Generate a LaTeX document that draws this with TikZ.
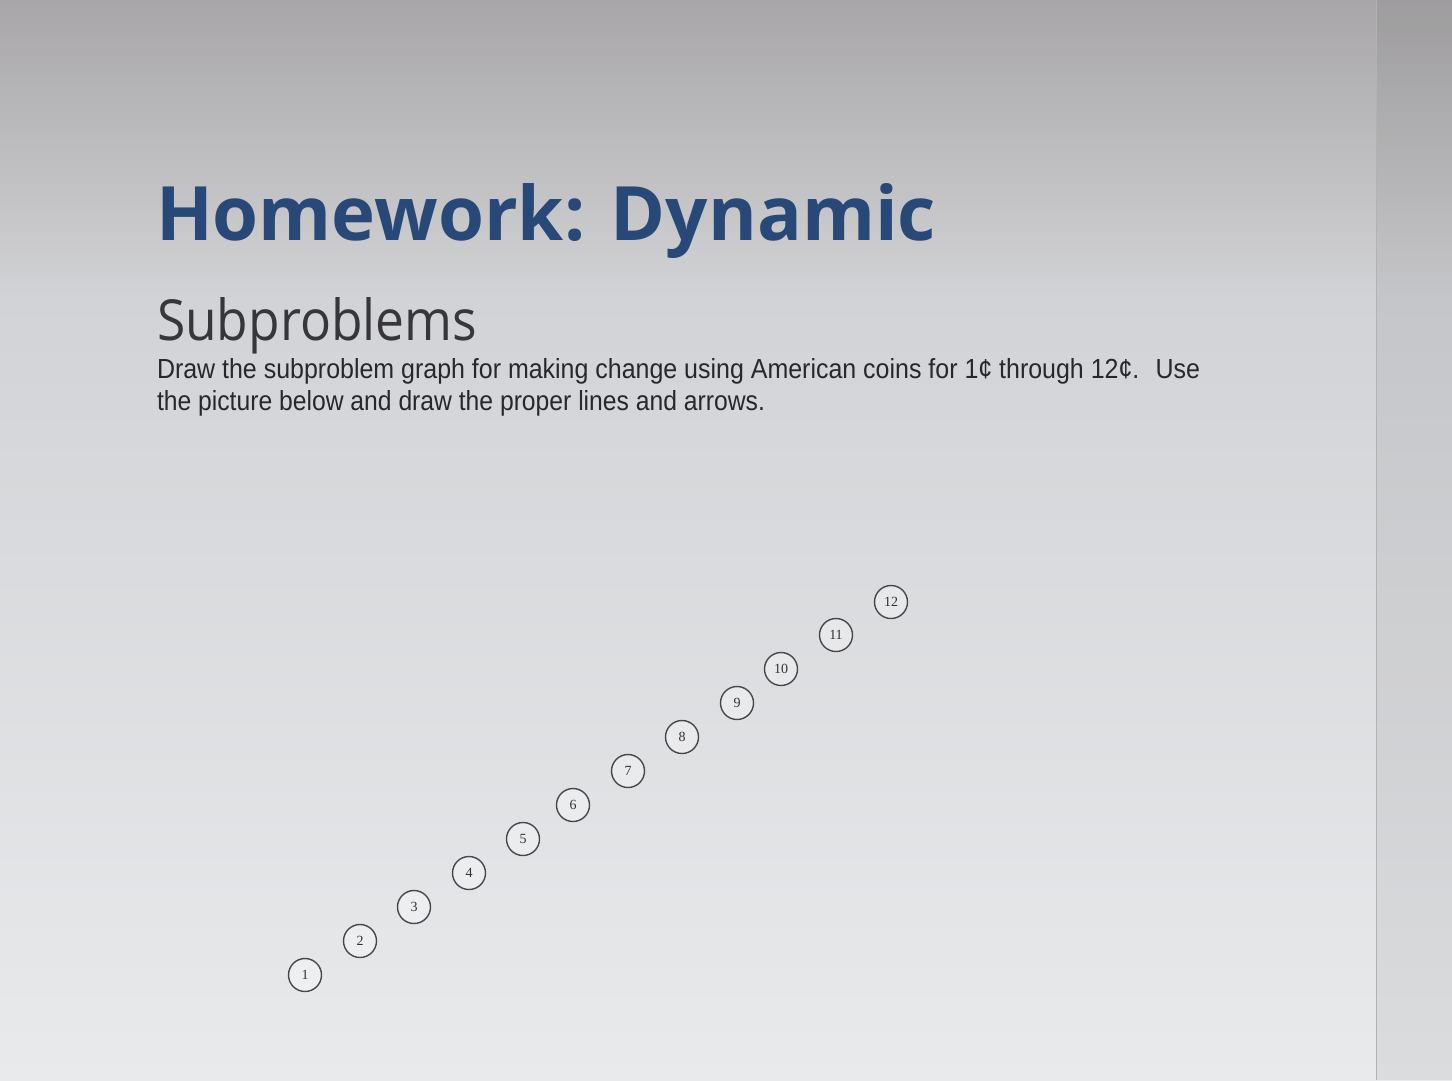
\documentclass[tikz,border=0pt]{standalone}
\usepackage{fontspec}
\usepackage{graphicx}
\setmainfont{Liberation Serif}
\newfontfamily\titlefont{Open Sans}
\newfontfamily\bodyfont{Liberation Sans}
\definecolor{bgtop}{RGB}{168,166,168}
\definecolor{bgmid}{RGB}{210,211,214}
\definecolor{bgbot}{RGB}{232,234,236}
\definecolor{titleblue}{RGB}{40,72,120}
\definecolor{subgray}{RGB}{55,55,58}
\definecolor{bodygray}{RGB}{40,40,44}
\definecolor{ringgray}{RGB}{70,72,76}
\tikzset{
  coin/.style={circle, draw=ringgray, line width=1.4pt, fill=white, fill opacity=0.35, text opacity=1,
    minimum size=33pt, inner sep=0pt, font=\fontsize{14pt}{14pt}\selectfont, text=black!80},
  txt/.style={anchor=base west, inner sep=0pt, outer sep=0pt}
}
\begin{document}
\begin{tikzpicture}[x=1pt,y=-1pt]
\useasboundingbox (0,0) rectangle (1452,1080);
\shade[top color=bgtop, bottom color=bgmid] (0,0) rectangle (1452,300);
\shade[top color=bgmid, bottom color=bgbot] (0,300) rectangle (1452,1080);
\fill[black, opacity=0.06] (1376,0) rectangle (1452,1080);
\draw[black!30, line width=0.8pt] (1376,0) -- (1376,1080);
\node[txt, text=titleblue] (title) at (156,240) {\resizebox{780pt}{57pt}{\titlefont\bfseries Homework: Dynamic}};
\node[txt, text=subgray] (sub) at (157,340) {\resizebox{320pt}{43pt}{\titlefont Subproblems}};
\node[txt, text=bodygray] (l1) at (157,378) {\resizebox{1043pt}{20pt}{\bodyfont Draw the subproblem graph for making change using American coins for 1¢ through 12¢.~ Use}};
\node[txt, text=bodygray] (l2) at (157,410) {\resizebox{608pt}{20pt}{\bodyfont the picture below and draw the proper lines and arrows.}};
\node[coin] (c1) at (305,975) {1};
\node[coin] (c2) at (360,941) {2};
\node[coin] (c3) at (414,907) {3};
\node[coin] (c4) at (469,873) {4};
\node[coin] (c5) at (523,839) {5};
\node[coin] (c6) at (573,805) {6};
\node[coin] (c7) at (628,771) {7};
\node[coin] (c8) at (682,737) {8};
\node[coin] (c9) at (737,703) {9};
\node[coin] (c10) at (781,669) {10};
\node[coin] (c11) at (836,635) {11};
\node[coin] (c12) at (891,602) {12};
\end{tikzpicture}
\end{document}
